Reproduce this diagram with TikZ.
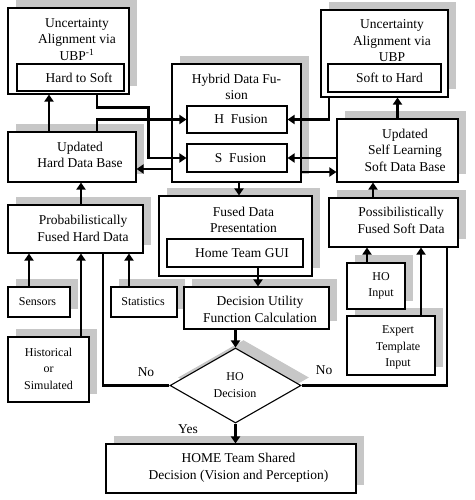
\documentclass[tikz,border=0pt]{standalone}
\usepackage{fontspec}
\setmainfont{Liberation Serif}
\usetikzlibrary{arrows.meta,shapes.geometric,shadows}
\begin{document}
\begin{tikzpicture}[x=1pt,y=-1pt,
  shad/.style={drop shadow={shadow xshift=8pt,shadow yshift=8pt,fill=black!22,opacity=1}},
  sbox/.style={draw,line width=1.1pt,fill=white,inner sep=0pt,shad},
  ibox/.style={draw,line width=1.1pt,fill=white,inner sep=0pt},
  txt/.style={align=center,font=\fontsize{13.5}{16.5}\selectfont,inner sep=0pt},
  stxt/.style={align=center,font=\fontsize{12}{16.5}\selectfont,inner sep=0pt},
  conn/.style={line width=2.5pt},
  arr/.style={conn,-{Triangle[length=7pt,width=9pt]}}]
\useasboundingbox (0,0) rectangle (474,500);

% left column
\node[sbox,minimum width=121pt,minimum height=86pt] (ubpinv) at (68.5,51) {};
\node[txt] (ubpinvt) at (77,39.5) {Uncertainty\\Alignment via\\UBP\textsuperscript{-1}};
\node[ibox,minimum width=107pt,minimum height=27pt] (h2s) at (70.5,77.5) {};
\node[txt] (h2st) at (79,77.5) {Hard to Soft};

\node[sbox,minimum width=128pt,minimum height=50pt] (uhdb) at (72,157) {};
\node[txt] (uhdbt) at (80,155) {Updated\\Hard Data Base};

\node[sbox,minimum width=135pt,minimum height=48pt] (pfhd) at (75.5,229) {};
\node[txt] (pfhdt) at (83,228.5) {Probabilistically\\Fused Hard Data};

\node[sbox,minimum width=62pt,minimum height=30pt] (sensors) at (39,302) {};
\node[stxt] (sensorst) at (37.5,302) {Sensors};
\node[sbox,minimum width=66pt,minimum height=30pt] (stats) at (144,302) {};
\node[stxt] (statst) at (143,302) {Statistics};
\node[sbox,minimum width=81pt,minimum height=65pt] (hist) at (48.5,369.5) {};
\node[stxt] (histt) at (48.5,368.5) {Historical\\or\\Simulated};

% centre column
\node[sbox,minimum width=129pt,minimum height=118pt] (hybrid) at (236.5,123) {};
\node[txt] (hybridt) at (236.5,87) {Hybrid Data Fu-\\sion};
\node[ibox,minimum width=100pt,minimum height=27pt] (hfus) at (237,119.5) {};
\node[txt] (hfust) at (241,119.5) {H\ \ Fusion};
\node[ibox,minimum width=100pt,minimum height=28pt] (sfus) at (237,158) {};
\node[txt] (sfust) at (240.5,158) {S\ \ Fusion};

\node[sbox,minimum width=153pt,minimum height=80pt] (fdp) at (235.5,236) {};
\node[txt] (fdpt) at (243.5,220) {Fused Data\\Presentation};
\node[ibox,minimum width=136pt,minimum height=28pt] (gui) at (235,253) {};
\node[txt] (guit) at (242,253) {Home Team GUI};

\node[sbox,minimum width=145pt,minimum height=42pt] (duf) at (256.5,308) {};
\node[txt] (duft) at (260,309.5) {Decision Utility\\Function Calculation};

\node[diamond,draw,line width=1.1pt,fill=white,inner sep=0pt,minimum width=131pt,minimum height=75pt,shad] (dec) at (235.5,385.5) {};
\node[stxt] (dect) at (235,385) {HO\\Decision};

\node[sbox,minimum width=250pt,minimum height=49pt] (home) at (231,468.5) {};
\node[txt] (homet) at (238.5,467.5) {HOME Team Shared\\Decision (Vision and Perception)};

% right column
\node[sbox,minimum width=127pt,minimum height=87pt] (ubp) at (384.5,53.5) {};
\node[txt] (ubpt) at (392,41) {Uncertainty\\Alignment via\\UBP};
\node[ibox,minimum width=113pt,minimum height=28pt] (s2h) at (384.5,78) {};
\node[txt] (s2ht) at (389.5,78) {Soft to Hard};

\node[sbox,minimum width=121pt,minimum height=63pt] (usdb) at (397.5,150.5) {};
\node[txt] (usdbt) at (405,150) {Updated\\Self Learning\\Soft Data Base};

\node[sbox,minimum width=129pt,minimum height=49pt] (pfsd) at (393.5,222.5) {};
\node[txt] (pfsdt) at (401,220.5) {Possibilistically\\Fused Soft Data};

\node[sbox,minimum width=88pt,minimum height=59pt] (expert) at (391,345.5) {};
\node[stxt] (expertt) at (398,347.5) {Expert\\Template\\Input};
\node[sbox,minimum width=58pt,minimum height=46pt] (hoin) at (376,286) {};
\node[stxt] (hoint) at (381,286) {HO\\Input};

% labels
\node[txt] (nol) at (146,372) {No};
\node[txt] (nor) at (324,370) {No};
\node[txt] (yes) at (188,429) {Yes};

% connectors
\draw[arr] ([xshift=-23pt]uhdb.north) -- ([xshift=-23pt]uhdb.north |- ubpinv.south);
\draw[arr] ([xshift=5.5pt]pfhd.north) -- ([xshift=5.5pt]pfhd.north |- uhdb.south);
\draw[arr] ([xshift=28.5pt]ubpinv.south) -- ++(0,13) -| ([xshift=-38pt]sfus.west) -- (sfus.west);
\draw[arr] ([xshift=25pt]uhdb.north) |- (hfus.west);
\draw[arr] ([yshift=-46pt]hybrid.west) -- ([yshift=-46pt]hybrid.west -| uhdb.east);
\draw[arr] ([xshift=2.5pt]hybrid.south) -- ([xshift=2.5pt]hybrid.south |- fdp.north);
\draw[arr] ([xshift=23pt]gui.south) -- ([xshift=23pt]gui.south |- duf.north);
\draw[arr] (dec.north |- duf.south) -- (dec.north);
\draw[arr] (dec.south) -- (dec.south |- home.north);
\draw[arr] ([xshift=-55.5pt]ubp.south) |- (hfus.east);
\draw[arr] (sfus.east -| usdb.west) -- (sfus.east);
\draw[arr] ([yshift=-49pt]hybrid.east) -- ([yshift=-49pt]hybrid.east -| usdb.west);
\draw[arr] (usdb.north) -- (usdb.north |- ubp.south);
\draw[arr] ([xshift=-20.5pt]pfsd.north) -- ([xshift=-20.5pt]pfsd.north |- usdb.south);
\draw[arr] ([xshift=-9pt]hoin.north) -- ([xshift=-9pt]hoin.north |- pfsd.south);
\draw[arr] ([xshift=30pt]expert.north) -- ([xshift=30pt]expert.north |- pfsd.south);
\draw[arr] ([xshift=-10pt]sensors.north) -- ([xshift=-10pt]sensors.north |- pfhd.south);
\draw[arr] ([xshift=32.5pt]hist.north) -- ([xshift=32.5pt]hist.north |- pfhd.south);
\draw[arr] ([xshift=-15pt]stats.north) -- ([xshift=-15pt]stats.north |- pfhd.south);
\draw[conn] (dec.west) -| ([xshift=27.5pt]pfhd.south);
\draw[conn] (dec.east) -| ([xshift=53.5pt]pfsd.south);
\end{tikzpicture}
\end{document}
